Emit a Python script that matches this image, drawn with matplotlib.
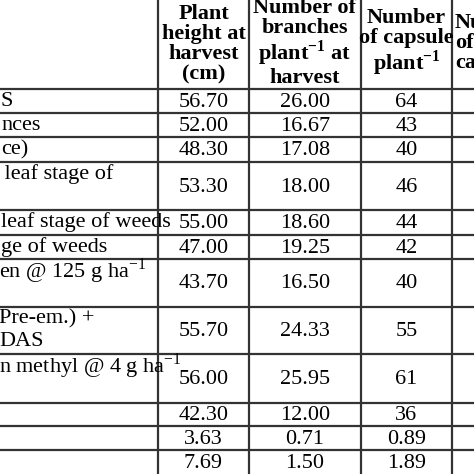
import matplotlib
matplotlib.use("Agg")
import matplotlib.pyplot as plt

plt.rcParams['mathtext.fontset'] = 'custom'
plt.rcParams['mathtext.rm'] = 'Liberation Serif'
plt.rcParams['mathtext.bf'] = 'Liberation Serif:bold'

row_labels = [["S"], ["nces"], ["ce)"], [" leaf stage of", ""], ["leaf stage of weeds"],
              ["ge of weeds"], [r"en @ 125 g ha$^{-1}$", ""], ["Pre-em.) +", "DAS"],
              [r"n methyl @ 4 g ha$^{-1}$", ""], [""], [""], [""]]
plant_height = ["56.70", "52.00", "48.30", "53.30", "55.00", "47.00", "43.70", "55.70", "56.00", "42.30", "3.63", "7.69"]
branches = ["26.00", "16.67", "17.08", "18.00", "18.60", "19.25", "16.50", "24.33", "25.95", "12.00", "0.71", "1.50"]
capsules = ["64", "43", "40", "46", "44", "42", "40", "55", "61", "36", "0.89", "1.89"]
headers = ["Plant\nheight at\nharvest\n(cm)",
           "Number of\nbranches\n" + r"plant$^{\mathbf{-1}}$" + " at\nharvest",
           "Number\nof capsule\n" + r"plant$^{\mathbf{-1}}$",
           "Nu\nof\nca"]

W = 474
fig = plt.figure(figsize=(4.74, 4.74), dpi=100)
ax = fig.add_axes([0, 0, 1, 1])
ax.set_xlim(0, W); ax.set_ylim(W, 0); ax.axis('off')

hl = [89, 113, 137, 162, 210, 235, 259, 307, 354, 403, 426, 450, 476]
vl = [158, 249, 361, 452]
lc = '#333333'
for y in hl[:-1]:
    ax.plot([0, W], [y, y], color=lc, lw=1.6, solid_capstyle='butt')
for x in vl:
    ax.plot([x, x], [0, W], color=lc, lw=1.6, solid_capstyle='butt')

fs = 16
font = 'Liberation Serif'
centers = [(158 + 249) / 2, (249 + 361) / 2, (361 + 452) / 2]
hy = [44, 43, 43]
for i, h in enumerate(headers[:3]):
    ax.text(centers[i], hy[i], h, ha='center', va='center', fontsize=fs, fontweight='bold',
            family=font, linespacing=1.0)
ax.text(455, 43, headers[3], ha='left', va='center', fontsize=fs, fontweight='bold',
        family=font, linespacing=1.0, clip_on=True)

for r in range(len(plant_height)):
    top, bot = hl[r], hl[r + 1]
    if r == len(plant_height) - 1:
        bot = 474
    mid = (top + bot) / 2
    for c, col in enumerate([plant_height, branches, capsules]):
        ax.text(centers[c], mid + 1, col[r], ha='center', va='center', fontsize=fs, family=font)
    lab = row_labels[r]
    if len(lab) == 1:
        ax.text(1, mid, lab[0], ha='left', va='center', fontsize=fs, family=font)
    else:
        ax.text(-1, top + 12, lab[0], ha='left', va='center', fontsize=fs, family=font)
        ax.text(-1, top + 35, lab[1], ha='left', va='center', fontsize=fs, family=font)

fig.savefig("out.png", dpi=100)
